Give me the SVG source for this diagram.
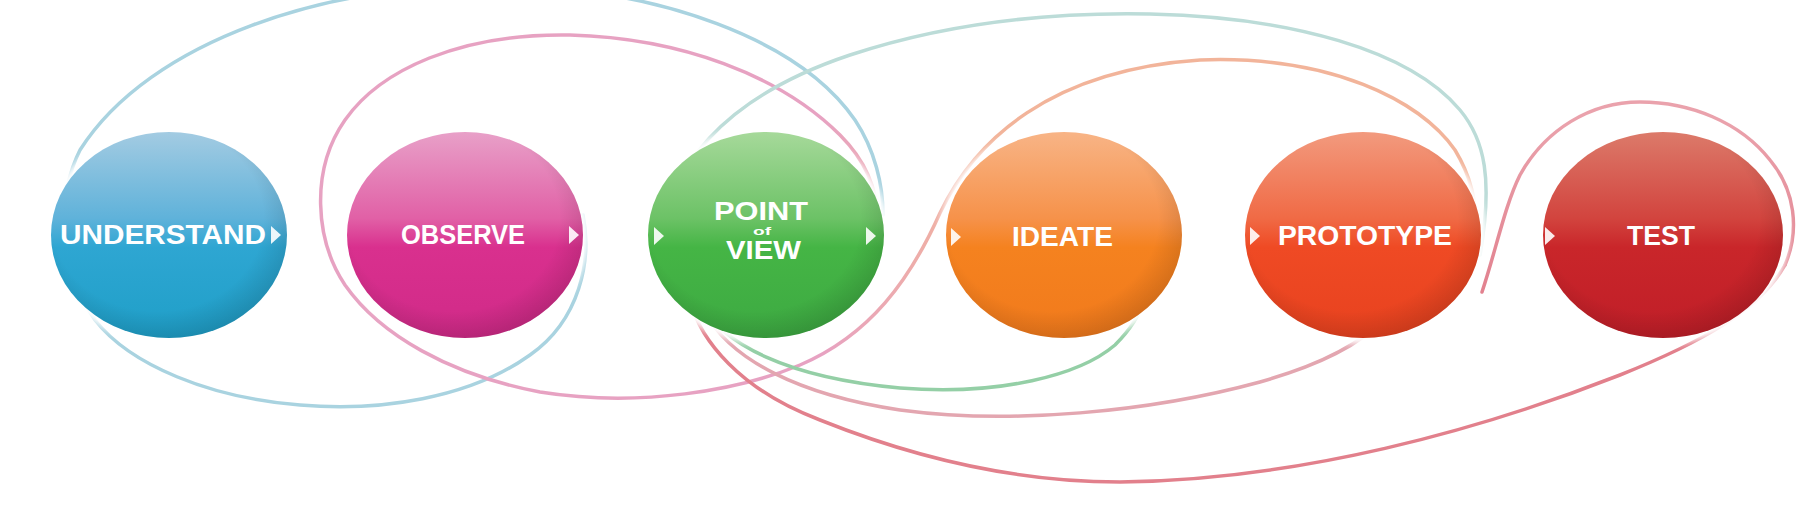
<svg xmlns="http://www.w3.org/2000/svg" width="1798" height="520" viewBox="0 0 1798 520">
<defs>
  <linearGradient id="gBlue" x1="0" y1="0" x2="0" y2="1">
    <stop offset="0" stop-color="#a3cbe2"/><stop offset="0.42" stop-color="#5fb2da"/><stop offset="0.56" stop-color="#2ea6d2"/><stop offset="1" stop-color="#1f9fc8"/>
  </linearGradient>
  <linearGradient id="gMag" x1="0" y1="0" x2="0" y2="1">
    <stop offset="0" stop-color="#e8a0c8"/><stop offset="0.42" stop-color="#e160a6"/><stop offset="0.56" stop-color="#d9308e"/><stop offset="1" stop-color="#d02a88"/>
  </linearGradient>
  <linearGradient id="gGreen" x1="0" y1="0" x2="0" y2="1">
    <stop offset="0" stop-color="#a6d99a"/><stop offset="0.42" stop-color="#6cc266"/><stop offset="0.56" stop-color="#45b545"/><stop offset="1" stop-color="#3daa42"/>
  </linearGradient>
  <linearGradient id="gOrange" x1="0" y1="0" x2="0" y2="1">
    <stop offset="0" stop-color="#f8b486"/><stop offset="0.42" stop-color="#f6924a"/><stop offset="0.56" stop-color="#f5821f"/><stop offset="1" stop-color="#f17a1c"/>
  </linearGradient>
  <linearGradient id="gRedOr" x1="0" y1="0" x2="0" y2="1">
    <stop offset="0" stop-color="#f29a7e"/><stop offset="0.42" stop-color="#f06a45"/><stop offset="0.56" stop-color="#ef4a24"/><stop offset="1" stop-color="#e8421f"/>
  </linearGradient>
  <linearGradient id="gRed" x1="0" y1="0" x2="0" y2="1">
    <stop offset="0" stop-color="#dc7a6a"/><stop offset="0.42" stop-color="#d2443e"/><stop offset="0.56" stop-color="#c9262a"/><stop offset="1" stop-color="#c01e28"/>
  </linearGradient>
  <radialGradient id="rim" cx="0.45" cy="0.42" r="0.6">
    <stop offset="0.75" stop-color="#000" stop-opacity="0"/><stop offset="1" stop-color="#000" stop-opacity="0.14"/>
  </radialGradient>
  <linearGradient id="gPinkOr" gradientUnits="userSpaceOnUse" x1="820" y1="0" x2="980" y2="0">
    <stop offset="0" stop-color="#e7a2c2"/><stop offset="1" stop-color="#f2b49a"/>
  </linearGradient>
  <linearGradient id="gRedLoop" gradientUnits="userSpaceOnUse" x1="0" y1="330" x2="0" y2="120">
    <stop offset="0" stop-color="#e07a88"/><stop offset="1" stop-color="#eaa2ac"/>
  </linearGradient>
  <filter id="halo" x="-20%" y="-20%" width="140%" height="140%">
    <feGaussianBlur stdDeviation="3"/>
  </filter>
  <filter id="soft" x="-5%" y="-5%" width="110%" height="110%">
    <feGaussianBlur stdDeviation="0.6"/>
  </filter>
</defs>
<style>
  .ln{fill:none;stroke-width:3.5;stroke-linecap:round;filter:url(#soft)}
  .halo{fill:#fff;filter:url(#halo)}
  .lbl{font-family:"Liberation Sans",Arial,sans-serif;font-weight:bold;font-size:27px;fill:#fff}
  .tri{fill:#fff;opacity:0.9}
</style>
<rect width="1798" height="520" fill="#fff"/>
<g id="connectors">
  <path class="ln" stroke="#a9d3e0" d="M 583 215 C 592 260, 580 320, 530 355 C 470 398, 380 412, 300 405 C 210 398, 130 365, 95 320 C 60 270, 55 200, 80 150 C 150 40, 330 -18, 500 -15 C 660 -12, 800 40, 855 120 C 875 150, 883 185, 883 215"/>
  <path class="ln" stroke="url(#gPinkOr)" d="M 876 240 C 882 200, 870 165, 840 135 C 780 75, 680 38, 570 35 C 460 33, 380 70, 345 120 C 310 170, 315 240, 345 285 C 380 335, 450 375, 540 392 C 640 408, 740 390, 800 365 C 870 335, 910 280, 940 213 C 975 140, 1050 70, 1200 60 C 1330 55, 1420 100, 1455 150 C 1470 175, 1477 200, 1476 232"/>
  <path class="ln" stroke="#bcdcd8" d="M 672 195 C 700 130, 760 85, 850 55 C 950 22, 1050 12, 1150 14 C 1290 17, 1410 50, 1460 110 C 1485 140, 1493 180, 1480 255"/>
  <path class="ln" stroke="#94cfa6" d="M 700 300 C 720 345, 790 378, 900 388 C 1000 396, 1080 375, 1115 345 C 1130 330, 1140 315, 1145 298"/>
  <path class="ln" stroke="#e3a6b0" d="M 705 312 C 730 360, 800 395, 900 410 C 1010 425, 1150 412, 1260 382 C 1320 365, 1360 345, 1385 318"/>
  <path class="ln" stroke="#e2808c" d="M 690 300 C 700 340, 740 390, 820 420 C 920 460, 1020 482, 1120 482 C 1300 480, 1480 430, 1620 375 C 1700 343, 1760 310, 1785 265"/>
  <path class="ln" stroke="url(#gRedLoop)" d="M 1785 265 C 1800 230, 1795 190, 1770 160 C 1740 122, 1690 102, 1640 102 C 1590 102, 1545 130, 1520 175 C 1505 205, 1496 250, 1482 292"/>
</g>
<g id="node-understand">
  <ellipse class="halo" cx="169" cy="235" rx="124" ry="109"/>
  <ellipse cx="169" cy="235" rx="118" ry="103" fill="url(#gBlue)"/>
  <ellipse cx="169" cy="235" rx="118" ry="103" fill="url(#rim)"/>
  <text class="lbl" x="60" y="244" textLength="206" lengthAdjust="spacingAndGlyphs">UNDERSTAND</text>
  <path class="tri" d="M 271 226 L 281 235 L 271 244 Z"/>
</g>
<g id="node-observe">
  <ellipse class="halo" cx="465" cy="235" rx="124" ry="109"/>
  <ellipse cx="465" cy="235" rx="118" ry="103" fill="url(#gMag)"/>
  <ellipse cx="465" cy="235" rx="118" ry="103" fill="url(#rim)"/>
  <text class="lbl" x="401" y="244" textLength="124" lengthAdjust="spacingAndGlyphs">OBSERVE</text>
  <path class="tri" d="M 569 226 L 579 235 L 569 244 Z"/>
</g>
<g id="node-point-of-view">
  <ellipse class="halo" cx="766" cy="235" rx="124" ry="109"/>
  <ellipse cx="766" cy="235" rx="118" ry="103" fill="url(#gGreen)"/>
  <ellipse cx="766" cy="235" rx="118" ry="103" fill="url(#rim)"/>
  <text class="lbl" x="714" y="220" style="font-size:25px" textLength="94" lengthAdjust="spacingAndGlyphs">POINT</text>
  <text class="lbl" x="753" y="235" style="font-size:11px" textLength="18" lengthAdjust="spacingAndGlyphs">of</text>
  <text class="lbl" x="726" y="259" style="font-size:25px" textLength="75" lengthAdjust="spacingAndGlyphs">VIEW</text>
  <path class="tri" d="M 654 227 L 664 236 L 654 245 Z"/>
  <path class="tri" d="M 866 227 L 876 236 L 866 245 Z"/>
</g>
<g id="node-ideate">
  <ellipse class="halo" cx="1064" cy="235" rx="124" ry="109"/>
  <ellipse cx="1064" cy="235" rx="118" ry="103" fill="url(#gOrange)"/>
  <ellipse cx="1064" cy="235" rx="118" ry="103" fill="url(#rim)"/>
  <text class="lbl" x="1012" y="246" textLength="101" lengthAdjust="spacingAndGlyphs">IDEATE</text>
  <path class="tri" d="M 951 228 L 961 237 L 951 246 Z"/>
</g>
<g id="node-prototype">
  <ellipse class="halo" cx="1363" cy="235" rx="124" ry="109"/>
  <ellipse cx="1363" cy="235" rx="118" ry="103" fill="url(#gRedOr)"/>
  <ellipse cx="1363" cy="235" rx="118" ry="103" fill="url(#rim)"/>
  <text class="lbl" x="1278" y="245" textLength="174" lengthAdjust="spacingAndGlyphs">PROTOTYPE</text>
  <path class="tri" d="M 1250 227 L 1260 236 L 1250 245 Z"/>
</g>
<g id="node-test">
  <ellipse class="halo" cx="1663" cy="235" rx="126" ry="109"/>
  <ellipse cx="1663" cy="235" rx="120" ry="103" fill="url(#gRed)"/>
  <ellipse cx="1663" cy="235" rx="120" ry="103" fill="url(#rim)"/>
  <text class="lbl" x="1627" y="245" textLength="68" lengthAdjust="spacingAndGlyphs">TEST</text>
  <path class="tri" d="M 1545 227 L 1555 236 L 1545 245 Z"/>
</g>
</svg>
